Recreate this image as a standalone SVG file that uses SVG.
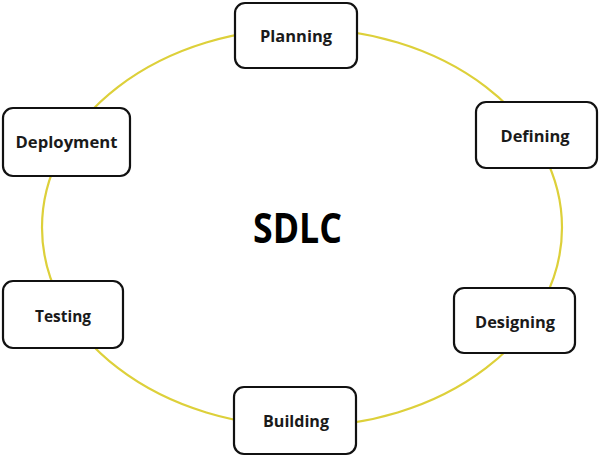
<svg xmlns="http://www.w3.org/2000/svg" width="600" height="457" viewBox="0 0 600 457">
<style>
.box{fill:#fff;stroke:#111;stroke-width:2.2}
.lbl{font-family:"Open Sans","Liberation Sans",sans-serif;font-weight:bold;font-size:16.5px;fill:#1a1a1a;text-anchor:middle}
.ring{fill:none;stroke:#ddd03a;stroke-width:2.2}
.title{font-family:"Open Sans","Liberation Sans",sans-serif;font-weight:bold;font-size:42px;fill:#000;text-anchor:middle}
</style>
<rect width="600" height="457" fill="#fff"/>
<g id="connectors">
<ellipse class="ring" cx="302" cy="227.5" rx="260" ry="199"/>
</g>
<g id="center"><text class="title" x="297.5" y="243" textLength="89" lengthAdjust="spacingAndGlyphs">SDLC</text></g>
<g id="planning"><rect class="box" x="235" y="3" width="122" height="65" rx="10"/><text class="lbl" x="296" y="42" textLength="72" lengthAdjust="spacingAndGlyphs">Planning</text></g>
<g id="defining"><rect class="box" x="476" y="102" width="121" height="66" rx="10"/><text class="lbl" x="535" y="142" textLength="69" lengthAdjust="spacingAndGlyphs">Defining</text></g>
<g id="designing"><rect class="box" x="454" y="288" width="121" height="65" rx="10"/><text class="lbl" x="515" y="328" textLength="80" lengthAdjust="spacingAndGlyphs">Designing</text></g>
<g id="building"><rect class="box" x="234" y="387" width="122" height="67" rx="10"/><text class="lbl" x="296" y="427" textLength="66" lengthAdjust="spacingAndGlyphs">Building</text></g>
<g id="testing"><rect class="box" x="3" y="281" width="120" height="67" rx="10"/><text class="lbl" x="63" y="322" textLength="56" lengthAdjust="spacingAndGlyphs">Testing</text></g>
<g id="deployment"><rect class="box" x="3" y="108" width="127" height="68" rx="10"/><text class="lbl" x="66.5" y="148" textLength="102" lengthAdjust="spacingAndGlyphs">Deployment</text></g>
</svg>
